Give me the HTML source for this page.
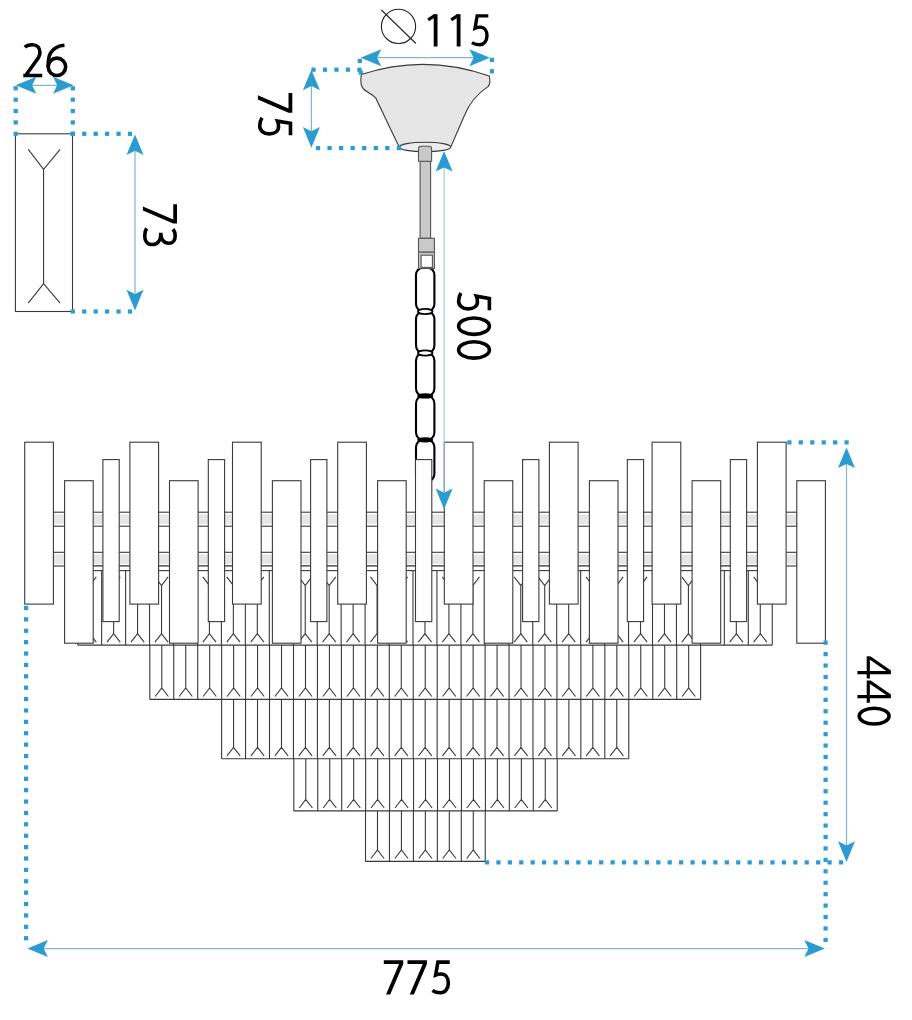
<!DOCTYPE html><html><head><meta charset="utf-8"><style>html,body{margin:0;padding:0;background:#fff;overflow:hidden}svg{display:block}.t{font-family:"Liberation Sans",sans-serif;fill:#000;fill-opacity:0}</style></head><body>
<svg width="912" height="1020" viewBox="0 0 912 1020">
<g fill="none" stroke="#3a3a3a" stroke-width="1.1">
<rect x="15.4" y="133.8" width="57.1" height="177.7" fill="#fff"/>
<path d="M28.2 149.4L43.6 169.4L60.1 149.4M43.6 169.4L43.6 283.7M28.2 303.2L43.6 283.7L60.1 303.2"/>
</g>
<g fill="none" stroke="#3a3a3a" stroke-width="1.1">
<path d="M77.70 570.60L77.70 645.10M101.65 570.60L101.65 645.10M125.60 570.60L125.60 645.10M149.55 570.60L149.55 645.10M173.50 570.60L173.50 645.10M197.45 570.60L197.45 645.10M221.40 570.60L221.40 645.10M245.35 570.60L245.35 645.10M269.30 570.60L269.30 645.10M293.25 570.60L293.25 645.10M317.20 570.60L317.20 645.10M341.15 570.60L341.15 645.10M365.10 570.60L365.10 645.10M389.05 570.60L389.05 645.10M413.00 570.60L413.00 645.10M436.95 570.60L436.95 645.10M460.90 570.60L460.90 645.10M484.85 570.60L484.85 645.10M508.80 570.60L508.80 645.10M532.75 570.60L532.75 645.10M556.70 570.60L556.70 645.10M580.65 570.60L580.65 645.10M604.60 570.60L604.60 645.10M628.55 570.60L628.55 645.10M652.50 570.60L652.50 645.10M676.45 570.60L676.45 645.10M700.40 570.60L700.40 645.10M724.35 570.60L724.35 645.10M748.30 570.60L748.30 645.10M772.25 570.60L772.25 645.10M77.70 645.10L772.25 645.10M83.08 576.90L89.67 585.50L96.27 576.90M89.67 585.50L89.67 633.60M83.08 642.20L89.67 633.60L96.27 642.20M107.03 576.90L113.62 585.50L120.22 576.90M113.62 585.50L113.62 633.60M107.03 642.20L113.62 633.60L120.22 642.20M130.97 576.90L137.57 585.50L144.17 576.90M137.57 585.50L137.57 633.60M130.97 642.20L137.57 633.60L144.17 642.20M154.93 576.90L161.53 585.50L168.12 576.90M161.53 585.50L161.53 633.60M154.93 642.20L161.53 633.60L168.12 642.20M178.88 576.90L185.47 585.50L192.07 576.90M185.47 585.50L185.47 633.60M178.88 642.20L185.47 633.60L192.07 642.20M202.83 576.90L209.43 585.50L216.03 576.90M209.43 585.50L209.43 633.60M202.83 642.20L209.43 633.60L216.03 642.20M226.78 576.90L233.38 585.50L239.97 576.90M233.38 585.50L233.38 633.60M226.78 642.20L233.38 633.60L239.97 642.20M250.72 576.90L257.32 585.50L263.93 576.90M257.32 585.50L257.32 633.60M250.72 642.20L257.32 633.60L263.93 642.20M274.67 576.90L281.27 585.50L287.88 576.90M281.27 585.50L281.27 633.60M274.67 642.20L281.27 633.60L287.88 642.20M298.62 576.90L305.23 585.50L311.83 576.90M305.23 585.50L305.23 633.60M298.62 642.20L305.23 633.60L311.83 642.20M322.57 576.90L329.18 585.50L335.78 576.90M329.18 585.50L329.18 633.60M322.57 642.20L329.18 633.60L335.78 642.20M346.52 576.90L353.12 585.50L359.73 576.90M353.12 585.50L353.12 633.60M346.52 642.20L353.12 633.60L359.73 642.20M370.47 576.90L377.07 585.50L383.68 576.90M377.07 585.50L377.07 633.60M370.47 642.20L377.07 633.60L383.68 642.20M394.42 576.90L401.02 585.50L407.62 576.90M401.02 585.50L401.02 633.60M394.42 642.20L401.02 633.60L407.62 642.20M418.37 576.90L424.97 585.50L431.57 576.90M424.97 585.50L424.97 633.60M418.37 642.20L424.97 633.60L431.57 642.20M442.32 576.90L448.92 585.50L455.52 576.90M448.92 585.50L448.92 633.60M442.32 642.20L448.92 633.60L455.52 642.20M466.27 576.90L472.88 585.50L479.48 576.90M472.88 585.50L472.88 633.60M466.27 642.20L472.88 633.60L479.48 642.20M490.22 576.90L496.82 585.50L503.43 576.90M496.82 585.50L496.82 633.60M490.22 642.20L496.82 633.60L503.43 642.20M514.17 576.90L520.77 585.50L527.38 576.90M520.77 585.50L520.77 633.60M514.17 642.20L520.77 633.60L527.38 642.20M538.12 576.90L544.73 585.50L551.33 576.90M544.73 585.50L544.73 633.60M538.12 642.20L544.73 633.60L551.33 642.20M562.07 576.90L568.67 585.50L575.27 576.90M568.67 585.50L568.67 633.60M562.07 642.20L568.67 633.60L575.27 642.20M586.02 576.90L592.62 585.50L599.23 576.90M592.62 585.50L592.62 633.60M586.02 642.20L592.62 633.60L599.23 642.20M609.98 576.90L616.58 585.50L623.18 576.90M616.58 585.50L616.58 633.60M609.98 642.20L616.58 633.60L623.18 642.20M633.92 576.90L640.52 585.50L647.12 576.90M640.52 585.50L640.52 633.60M633.92 642.20L640.52 633.60L647.12 642.20M657.88 576.90L664.48 585.50L671.08 576.90M664.48 585.50L664.48 633.60M657.88 642.20L664.48 633.60L671.08 642.20M681.83 576.90L688.43 585.50L695.03 576.90M688.43 585.50L688.43 633.60M681.83 642.20L688.43 633.60L695.03 642.20M705.77 576.90L712.38 585.50L718.98 576.90M712.38 585.50L712.38 633.60M705.77 642.20L712.38 633.60L718.98 642.20M729.73 576.90L736.33 585.50L742.93 576.90M736.33 585.50L736.33 633.60M729.73 642.20L736.33 633.60L742.93 642.20M753.67 576.90L760.27 585.50L766.88 576.90M760.27 585.50L760.27 633.60M753.67 642.20L760.27 633.60L766.88 642.20"/>
<path d="M149.80 645.10L149.80 699.40M173.75 645.10L173.75 699.40M197.70 645.10L197.70 699.40M221.65 645.10L221.65 699.40M245.60 645.10L245.60 699.40M269.55 645.10L269.55 699.40M293.50 645.10L293.50 699.40M317.45 645.10L317.45 699.40M341.40 645.10L341.40 699.40M365.35 645.10L365.35 699.40M389.30 645.10L389.30 699.40M413.25 645.10L413.25 699.40M437.20 645.10L437.20 699.40M461.15 645.10L461.15 699.40M485.10 645.10L485.10 699.40M509.05 645.10L509.05 699.40M533.00 645.10L533.00 699.40M556.95 645.10L556.95 699.40M580.90 645.10L580.90 699.40M604.85 645.10L604.85 699.40M628.80 645.10L628.80 699.40M652.75 645.10L652.75 699.40M676.70 645.10L676.70 699.40M700.65 645.10L700.65 699.40M149.80 699.40L700.65 699.40M161.78 645.10L161.78 687.90M155.18 696.50L161.78 687.90L168.38 696.50M185.73 645.10L185.73 687.90M179.13 696.50L185.73 687.90L192.33 696.50M209.68 645.10L209.68 687.90M203.08 696.50L209.68 687.90L216.28 696.50M233.62 645.10L233.62 687.90M227.03 696.50L233.62 687.90L240.22 696.50M257.57 645.10L257.57 687.90M250.97 696.50L257.57 687.90L264.18 696.50M281.52 645.10L281.52 687.90M274.92 696.50L281.52 687.90L288.12 696.50M305.48 645.10L305.48 687.90M298.88 696.50L305.48 687.90L312.08 696.50M329.43 645.10L329.43 687.90M322.82 696.50L329.43 687.90L336.03 696.50M353.38 645.10L353.38 687.90M346.77 696.50L353.38 687.90L359.98 696.50M377.33 645.10L377.33 687.90M370.73 696.50L377.33 687.90L383.93 696.50M401.27 645.10L401.27 687.90M394.67 696.50L401.27 687.90L407.88 696.50M425.23 645.10L425.23 687.90M418.62 696.50L425.23 687.90L431.83 696.50M449.18 645.10L449.18 687.90M442.57 696.50L449.18 687.90L455.78 696.50M473.12 645.10L473.12 687.90M466.52 696.50L473.12 687.90L479.73 696.50M497.07 645.10L497.07 687.90M490.47 696.50L497.07 687.90L503.68 696.50M521.02 645.10L521.02 687.90M514.42 696.50L521.02 687.90L527.62 696.50M544.98 645.10L544.98 687.90M538.38 696.50L544.98 687.90L551.58 696.50M568.92 645.10L568.92 687.90M562.32 696.50L568.92 687.90L575.52 696.50M592.88 645.10L592.88 687.90M586.27 696.50L592.88 687.90L599.48 696.50M616.83 645.10L616.83 687.90M610.23 696.50L616.83 687.90L623.43 696.50M640.77 645.10L640.77 687.90M634.17 696.50L640.77 687.90L647.38 696.50M664.72 645.10L664.72 687.90M658.12 696.50L664.72 687.90L671.32 696.50M688.67 645.10L688.67 687.90M682.07 696.50L688.67 687.90L695.27 696.50"/>
<path d="M221.60 699.40L221.60 758.80M245.55 699.40L245.55 758.80M269.50 699.40L269.50 758.80M293.45 699.40L293.45 758.80M317.40 699.40L317.40 758.80M341.35 699.40L341.35 758.80M365.30 699.40L365.30 758.80M389.25 699.40L389.25 758.80M413.20 699.40L413.20 758.80M437.15 699.40L437.15 758.80M461.10 699.40L461.10 758.80M485.05 699.40L485.05 758.80M509.00 699.40L509.00 758.80M532.95 699.40L532.95 758.80M556.90 699.40L556.90 758.80M580.85 699.40L580.85 758.80M604.80 699.40L604.80 758.80M628.75 699.40L628.75 758.80M221.60 758.80L628.75 758.80M233.57 699.40L233.57 747.30M226.97 755.90L233.57 747.30L240.17 755.90M257.52 699.40L257.52 747.30M250.92 755.90L257.52 747.30L264.12 755.90M281.48 699.40L281.48 747.30M274.88 755.90L281.48 747.30L288.08 755.90M305.43 699.40L305.43 747.30M298.82 755.90L305.43 747.30L312.03 755.90M329.38 699.40L329.38 747.30M322.77 755.90L329.38 747.30L335.98 755.90M353.32 699.40L353.32 747.30M346.72 755.90L353.32 747.30L359.93 755.90M377.27 699.40L377.27 747.30M370.67 755.90L377.27 747.30L383.88 755.90M401.23 699.40L401.23 747.30M394.62 755.90L401.23 747.30L407.83 755.90M425.17 699.40L425.17 747.30M418.57 755.90L425.17 747.30L431.77 755.90M449.12 699.40L449.12 747.30M442.52 755.90L449.12 747.30L455.73 755.90M473.07 699.40L473.07 747.30M466.47 755.90L473.07 747.30L479.68 755.90M497.02 699.40L497.02 747.30M490.42 755.90L497.02 747.30L503.62 755.90M520.98 699.40L520.98 747.30M514.38 755.90L520.98 747.30L527.58 755.90M544.92 699.40L544.92 747.30M538.32 755.90L544.92 747.30L551.52 755.90M568.88 699.40L568.88 747.30M562.27 755.90L568.88 747.30L575.48 755.90M592.82 699.40L592.82 747.30M586.22 755.90L592.82 747.30L599.42 755.90M616.77 699.40L616.77 747.30M610.17 755.90L616.77 747.30L623.38 755.90"/>
<path d="M293.80 758.80L293.80 810.90M317.75 758.80L317.75 810.90M341.70 758.80L341.70 810.90M365.65 758.80L365.65 810.90M389.60 758.80L389.60 810.90M413.55 758.80L413.55 810.90M437.50 758.80L437.50 810.90M461.45 758.80L461.45 810.90M485.40 758.80L485.40 810.90M509.35 758.80L509.35 810.90M533.30 758.80L533.30 810.90M557.25 758.80L557.25 810.90M293.80 810.90L557.25 810.90M305.78 758.80L305.78 799.40M299.18 808.00L305.78 799.40L312.38 808.00M329.73 758.80L329.73 799.40M323.12 808.00L329.73 799.40L336.33 808.00M353.68 758.80L353.68 799.40M347.07 808.00L353.68 799.40L360.28 808.00M377.62 758.80L377.62 799.40M371.02 808.00L377.62 799.40L384.23 808.00M401.57 758.80L401.57 799.40M394.97 808.00L401.57 799.40L408.18 808.00M425.52 758.80L425.52 799.40M418.92 808.00L425.52 799.40L432.12 808.00M449.48 758.80L449.48 799.40M442.88 808.00L449.48 799.40L456.08 808.00M473.43 758.80L473.43 799.40M466.82 808.00L473.43 799.40L480.03 808.00M497.38 758.80L497.38 799.40M490.77 808.00L497.38 799.40L503.98 808.00M521.33 758.80L521.33 799.40M514.73 808.00L521.33 799.40L527.93 808.00M545.27 758.80L545.27 799.40M538.67 808.00L545.27 799.40L551.88 808.00"/>
<path d="M365.50 810.90L365.50 861.40M389.45 810.90L389.45 861.40M413.40 810.90L413.40 861.40M437.35 810.90L437.35 861.40M461.30 810.90L461.30 861.40M485.25 810.90L485.25 861.40M365.50 861.40L485.25 861.40M377.48 810.90L377.48 849.90M370.88 858.50L377.48 849.90L384.08 858.50M401.43 810.90L401.43 849.90M394.82 858.50L401.43 849.90L408.03 858.50M425.38 810.90L425.38 849.90M418.77 858.50L425.38 849.90L431.98 858.50M449.32 810.90L449.32 849.90M442.72 858.50L449.32 849.90L455.93 858.50M473.27 810.90L473.27 849.90M466.67 858.50L473.27 849.90L479.88 858.50"/>
</g>
<g stroke="#3a3a3a" stroke-width="1.1" fill="#fff">
<rect x="53.5" y="512.2" width="743.3" height="14"/>
<rect x="53.5" y="552.3" width="743.3" height="13.7"/>
<rect x="77.7" y="566" width="695" height="4.6"/>
</g>
<rect x="53.5" y="514.4" width="743.3" height="9.6" fill="#e6e6e6"/>
<rect x="53.5" y="554.5" width="743.3" height="9.4" fill="#e6e6e6"/>
<g stroke="#3a3a3a" stroke-width="1.1" fill="#e6e6e6">
<path d="M361.3 74.6Q424.9 53.5 489.3 76.1C490.2 80 490 84 488.3 86.4C480 92 470 101 464.3 115.8L451.1 146.2L399 146.7L375.7 97.9C371 93.5 366 91.5 363.5 89C361 86.5 360.5 80 361.3 74.6Z"/>
<ellipse cx="425" cy="147" rx="25.8" ry="4.8" fill="#ececec"/>
</g>
<g stroke="#000" stroke-width="2.1" fill="none">
<rect x="416" y="267.6" width="18.4" height="43.9" rx="7" ry="7.5"/>
<rect x="416" y="311.5" width="18.4" height="41.5" rx="7" ry="7.5"/>
<rect x="416" y="353.0" width="18.4" height="42.9" rx="7" ry="7.5"/>
<rect x="416" y="395.9" width="18.4" height="43.9" rx="7" ry="7.5"/>
<rect x="416" y="439.8" width="18.4" height="41.7" rx="7" ry="7.5"/>
<ellipse cx="425.2" cy="311.5" rx="7.2" ry="2.6" stroke-width="1.9" fill="#fff"/>
<ellipse cx="425.2" cy="353.0" rx="7.2" ry="2.6" stroke-width="1.9" fill="#fff"/>
<ellipse cx="425.2" cy="395.9" rx="6.8" ry="1.4" stroke-width="2.4" fill="#000"/>
<ellipse cx="425.2" cy="439.8" rx="6.8" ry="1.4" stroke-width="2.4" fill="#000"/>
</g>
<g stroke="#555" stroke-width="1.1" fill="#c9c9c9">
<rect x="420.1" y="161.2" width="10.5" height="77.1"/>
<path d="M418.5 161.2L418.5 149Q418.5 146.3 421 146.3L429 146.3Q431.6 146.3 431.6 149L431.6 161.2Z"/>
<rect x="418.5" y="238.3" width="15.9" height="13.9"/>
<rect x="418.5" y="252.2" width="15.9" height="16.3"/>
<rect x="421.1" y="255.2" width="11.3" height="12.2" fill="#fff"/>
</g>
<g stroke="#3a3a3a" stroke-width="1.1" fill="#fff">
<rect x="24.7" y="442.2" width="28.7" height="161.9"/>
<rect x="129.9" y="442.2" width="28.7" height="161.9"/>
<rect x="232.5" y="442.2" width="28.7" height="161.9"/>
<rect x="337.7" y="442.2" width="28.7" height="161.9"/>
<rect x="444.3" y="442.2" width="28.7" height="161.9"/>
<rect x="549.4" y="442.2" width="28.7" height="161.9"/>
<rect x="652.1" y="442.2" width="28.7" height="161.9"/>
<rect x="757.4" y="442.2" width="28.7" height="161.9"/>
<rect x="64.6" y="480.7" width="28.6" height="162.5"/>
<rect x="169.5" y="480.7" width="28.6" height="162.5"/>
<rect x="272.4" y="480.7" width="28.6" height="162.5"/>
<rect x="377.6" y="480.7" width="28.6" height="162.5"/>
<rect x="484.2" y="480.7" width="28.6" height="162.5"/>
<rect x="589.4" y="480.7" width="28.6" height="162.5"/>
<rect x="692.1" y="480.7" width="28.6" height="162.5"/>
<rect x="796.8" y="480.7" width="28.6" height="162.5"/>
<rect x="102.9" y="459.6" width="16.3" height="162"/>
<rect x="208.3" y="459.6" width="16.3" height="162"/>
<rect x="310.6" y="459.6" width="16.3" height="162"/>
<rect x="415.5" y="459.6" width="16.3" height="162"/>
<rect x="522.6" y="459.6" width="16.3" height="162"/>
<rect x="627.3" y="459.6" width="16.3" height="162"/>
<rect x="730.3" y="459.6" width="16.3" height="162"/>
</g>
<rect x="13.60" y="86.20" width="4.2" height="4.2" fill="#2b9cd2"/>
<rect x="13.60" y="97.58" width="4.2" height="4.2" fill="#2b9cd2"/>
<rect x="13.60" y="108.95" width="4.2" height="4.2" fill="#2b9cd2"/>
<rect x="13.60" y="120.33" width="4.2" height="4.2" fill="#2b9cd2"/>
<rect x="13.60" y="131.70" width="4.2" height="4.2" fill="#2b9cd2"/>
<rect x="70.70" y="86.20" width="4.2" height="4.2" fill="#2b9cd2"/>
<rect x="70.70" y="97.58" width="4.2" height="4.2" fill="#2b9cd2"/>
<rect x="70.70" y="108.95" width="4.2" height="4.2" fill="#2b9cd2"/>
<rect x="70.70" y="120.33" width="4.2" height="4.2" fill="#2b9cd2"/>
<rect x="70.70" y="131.70" width="4.2" height="4.2" fill="#2b9cd2"/>
<line x1="25.7" y1="85.3" x2="63.599999999999994" y2="85.3" stroke="#80b6d2" stroke-width="1.2"/>
<path d="M15.70 85.30L36.30 76.80L32.10 85.30L36.30 93.80Z" fill="#2b9cd2"/>
<path d="M73.60 85.30L53.00 93.80L57.20 85.30L53.00 76.80Z" fill="#2b9cd2"/>
<text transform="translate(20.48,76.91) scale(0.4431,0.4887)" font-size="100" class="t">26</text>
<rect x="70.70" y="131.70" width="4.2" height="4.2" fill="#2b9cd2"/>
<rect x="82.14" y="131.70" width="4.2" height="4.2" fill="#2b9cd2"/>
<rect x="93.58" y="131.70" width="4.2" height="4.2" fill="#2b9cd2"/>
<rect x="105.02" y="131.70" width="4.2" height="4.2" fill="#2b9cd2"/>
<rect x="116.46" y="131.70" width="4.2" height="4.2" fill="#2b9cd2"/>
<rect x="127.90" y="131.70" width="4.2" height="4.2" fill="#2b9cd2"/>
<rect x="70.70" y="309.40" width="4.2" height="4.2" fill="#2b9cd2"/>
<rect x="82.14" y="309.40" width="4.2" height="4.2" fill="#2b9cd2"/>
<rect x="93.58" y="309.40" width="4.2" height="4.2" fill="#2b9cd2"/>
<rect x="105.02" y="309.40" width="4.2" height="4.2" fill="#2b9cd2"/>
<rect x="116.46" y="309.40" width="4.2" height="4.2" fill="#2b9cd2"/>
<rect x="127.90" y="309.40" width="4.2" height="4.2" fill="#2b9cd2"/>
<line x1="135.0" y1="144.4" x2="135.0" y2="300.4" stroke="#80b6d2" stroke-width="1.2"/>
<path d="M135.00 134.40L143.50 155.00L135.00 150.80L126.50 155.00Z" fill="#2b9cd2"/>
<path d="M135.00 310.40L126.50 289.80L135.00 294.00L143.50 289.80Z" fill="#2b9cd2"/>
<text transform="translate(143.09,202.24) rotate(90) scale(0.4118,0.4859)" font-size="100" class="t">73</text>
<rect x="311.40" y="67.60" width="4.2" height="4.2" fill="#2b9cd2"/>
<rect x="322.88" y="67.60" width="4.2" height="4.2" fill="#2b9cd2"/>
<rect x="334.35" y="67.60" width="4.2" height="4.2" fill="#2b9cd2"/>
<rect x="345.82" y="67.60" width="4.2" height="4.2" fill="#2b9cd2"/>
<rect x="357.30" y="67.60" width="4.2" height="4.2" fill="#2b9cd2"/>
<rect x="315.90" y="146.00" width="4.2" height="4.2" fill="#2b9cd2"/>
<rect x="327.46" y="146.00" width="4.2" height="4.2" fill="#2b9cd2"/>
<rect x="339.01" y="146.00" width="4.2" height="4.2" fill="#2b9cd2"/>
<rect x="350.57" y="146.00" width="4.2" height="4.2" fill="#2b9cd2"/>
<rect x="362.13" y="146.00" width="4.2" height="4.2" fill="#2b9cd2"/>
<rect x="373.69" y="146.00" width="4.2" height="4.2" fill="#2b9cd2"/>
<rect x="385.24" y="146.00" width="4.2" height="4.2" fill="#2b9cd2"/>
<rect x="396.80" y="146.00" width="4.2" height="4.2" fill="#2b9cd2"/>
<line x1="311.4" y1="79.7" x2="311.4" y2="137.7" stroke="#80b6d2" stroke-width="1.2"/>
<path d="M311.40 69.70L319.90 90.30L311.40 86.10L302.90 90.30Z" fill="#2b9cd2"/>
<path d="M311.40 147.70L302.90 127.10L311.40 131.30L319.90 127.10Z" fill="#2b9cd2"/>
<text transform="translate(258.29,91.32) rotate(90) scale(0.4157,0.4929)" font-size="100" class="t">75</text>
<circle cx="398.5" cy="26.4" r="17.1" fill="none" stroke="#222" stroke-width="1.1"/>
<line x1="381.4" y1="10" x2="415.9" y2="43.5" stroke="#222" stroke-width="1.1"/>
<text transform="translate(424.36,45.83) scale(0.4170,0.4686)" font-size="100" class="t">115</text>
<rect x="357.7" y="58.8" width="4.2" height="4.2" fill="#2b9cd2"/>
<rect x="358.7" y="70.5" width="4.2" height="4.2" fill="#2b9cd2"/>
<rect x="489.8" y="57.8" width="4.2" height="4.2" fill="#2b9cd2"/>
<rect x="489.8" y="69.2" width="4.2" height="4.2" fill="#2b9cd2"/>
<line x1="370.7" y1="57.7" x2="480" y2="57.7" stroke="#80b6d2" stroke-width="1.2"/>
<path d="M360.70 57.70L381.30 49.20L377.10 57.70L381.30 66.20Z" fill="#2b9cd2"/>
<path d="M490.00 57.70L469.40 66.20L473.60 57.70L469.40 49.20Z" fill="#2b9cd2"/>
<line x1="444.1" y1="161" x2="444.1" y2="499.2" stroke="#a9c9cd" stroke-width="1.2"/>
<path d="M444.10 151.00L452.60 171.60L444.10 167.40L435.60 171.60Z" fill="#2b9cd2"/>
<path d="M444.10 509.20L435.60 488.60L444.10 492.80L452.60 488.60Z" fill="#2b9cd2"/>
<text transform="translate(457.28,290.17) rotate(90) scale(0.4333,0.4845)" font-size="100" class="t">500</text>
<rect x="787.30" y="440.30" width="4.2" height="4.2" fill="#2b9cd2"/>
<rect x="798.74" y="440.30" width="4.2" height="4.2" fill="#2b9cd2"/>
<rect x="810.18" y="440.30" width="4.2" height="4.2" fill="#2b9cd2"/>
<rect x="821.62" y="440.30" width="4.2" height="4.2" fill="#2b9cd2"/>
<rect x="833.06" y="440.30" width="4.2" height="4.2" fill="#2b9cd2"/>
<rect x="844.50" y="440.30" width="4.2" height="4.2" fill="#2b9cd2"/>
<rect x="484.90" y="860.30" width="4.2" height="4.2" fill="#2b9cd2"/>
<rect x="496.32" y="860.30" width="4.2" height="4.2" fill="#2b9cd2"/>
<rect x="507.74" y="860.30" width="4.2" height="4.2" fill="#2b9cd2"/>
<rect x="519.16" y="860.30" width="4.2" height="4.2" fill="#2b9cd2"/>
<rect x="530.58" y="860.30" width="4.2" height="4.2" fill="#2b9cd2"/>
<rect x="542.00" y="860.30" width="4.2" height="4.2" fill="#2b9cd2"/>
<rect x="553.42" y="860.30" width="4.2" height="4.2" fill="#2b9cd2"/>
<rect x="564.84" y="860.30" width="4.2" height="4.2" fill="#2b9cd2"/>
<rect x="576.25" y="860.30" width="4.2" height="4.2" fill="#2b9cd2"/>
<rect x="587.67" y="860.30" width="4.2" height="4.2" fill="#2b9cd2"/>
<rect x="599.09" y="860.30" width="4.2" height="4.2" fill="#2b9cd2"/>
<rect x="610.51" y="860.30" width="4.2" height="4.2" fill="#2b9cd2"/>
<rect x="621.93" y="860.30" width="4.2" height="4.2" fill="#2b9cd2"/>
<rect x="633.35" y="860.30" width="4.2" height="4.2" fill="#2b9cd2"/>
<rect x="644.77" y="860.30" width="4.2" height="4.2" fill="#2b9cd2"/>
<rect x="656.19" y="860.30" width="4.2" height="4.2" fill="#2b9cd2"/>
<rect x="667.61" y="860.30" width="4.2" height="4.2" fill="#2b9cd2"/>
<rect x="679.03" y="860.30" width="4.2" height="4.2" fill="#2b9cd2"/>
<rect x="690.45" y="860.30" width="4.2" height="4.2" fill="#2b9cd2"/>
<rect x="701.87" y="860.30" width="4.2" height="4.2" fill="#2b9cd2"/>
<rect x="713.29" y="860.30" width="4.2" height="4.2" fill="#2b9cd2"/>
<rect x="724.71" y="860.30" width="4.2" height="4.2" fill="#2b9cd2"/>
<rect x="736.13" y="860.30" width="4.2" height="4.2" fill="#2b9cd2"/>
<rect x="747.55" y="860.30" width="4.2" height="4.2" fill="#2b9cd2"/>
<rect x="758.96" y="860.30" width="4.2" height="4.2" fill="#2b9cd2"/>
<rect x="770.38" y="860.30" width="4.2" height="4.2" fill="#2b9cd2"/>
<rect x="781.80" y="860.30" width="4.2" height="4.2" fill="#2b9cd2"/>
<rect x="793.22" y="860.30" width="4.2" height="4.2" fill="#2b9cd2"/>
<rect x="804.64" y="860.30" width="4.2" height="4.2" fill="#2b9cd2"/>
<rect x="816.06" y="860.30" width="4.2" height="4.2" fill="#2b9cd2"/>
<rect x="827.48" y="860.30" width="4.2" height="4.2" fill="#2b9cd2"/>
<rect x="838.90" y="860.30" width="4.2" height="4.2" fill="#2b9cd2"/>
<rect x="823.50" y="640.60" width="4.2" height="4.2" fill="#2b9cd2"/>
<rect x="823.50" y="652.03" width="4.2" height="4.2" fill="#2b9cd2"/>
<rect x="823.50" y="663.46" width="4.2" height="4.2" fill="#2b9cd2"/>
<rect x="823.50" y="674.89" width="4.2" height="4.2" fill="#2b9cd2"/>
<rect x="823.50" y="686.32" width="4.2" height="4.2" fill="#2b9cd2"/>
<rect x="823.50" y="697.75" width="4.2" height="4.2" fill="#2b9cd2"/>
<rect x="823.50" y="709.18" width="4.2" height="4.2" fill="#2b9cd2"/>
<rect x="823.50" y="720.62" width="4.2" height="4.2" fill="#2b9cd2"/>
<rect x="823.50" y="732.05" width="4.2" height="4.2" fill="#2b9cd2"/>
<rect x="823.50" y="743.48" width="4.2" height="4.2" fill="#2b9cd2"/>
<rect x="823.50" y="754.91" width="4.2" height="4.2" fill="#2b9cd2"/>
<rect x="823.50" y="766.34" width="4.2" height="4.2" fill="#2b9cd2"/>
<rect x="823.50" y="777.77" width="4.2" height="4.2" fill="#2b9cd2"/>
<rect x="823.50" y="789.20" width="4.2" height="4.2" fill="#2b9cd2"/>
<rect x="823.50" y="800.63" width="4.2" height="4.2" fill="#2b9cd2"/>
<rect x="823.50" y="812.06" width="4.2" height="4.2" fill="#2b9cd2"/>
<rect x="823.50" y="823.49" width="4.2" height="4.2" fill="#2b9cd2"/>
<rect x="823.50" y="834.92" width="4.2" height="4.2" fill="#2b9cd2"/>
<rect x="823.50" y="846.35" width="4.2" height="4.2" fill="#2b9cd2"/>
<rect x="823.50" y="857.78" width="4.2" height="4.2" fill="#2b9cd2"/>
<rect x="823.50" y="869.22" width="4.2" height="4.2" fill="#2b9cd2"/>
<rect x="823.50" y="880.65" width="4.2" height="4.2" fill="#2b9cd2"/>
<rect x="823.50" y="892.08" width="4.2" height="4.2" fill="#2b9cd2"/>
<rect x="823.50" y="903.51" width="4.2" height="4.2" fill="#2b9cd2"/>
<rect x="823.50" y="914.94" width="4.2" height="4.2" fill="#2b9cd2"/>
<rect x="823.50" y="926.37" width="4.2" height="4.2" fill="#2b9cd2"/>
<rect x="823.50" y="937.80" width="4.2" height="4.2" fill="#2b9cd2"/>
<rect x="24.00" y="605.90" width="4.2" height="4.2" fill="#2b9cd2"/>
<rect x="24.00" y="617.29" width="4.2" height="4.2" fill="#2b9cd2"/>
<rect x="24.00" y="628.67" width="4.2" height="4.2" fill="#2b9cd2"/>
<rect x="24.00" y="640.06" width="4.2" height="4.2" fill="#2b9cd2"/>
<rect x="24.00" y="651.44" width="4.2" height="4.2" fill="#2b9cd2"/>
<rect x="24.00" y="662.83" width="4.2" height="4.2" fill="#2b9cd2"/>
<rect x="24.00" y="674.22" width="4.2" height="4.2" fill="#2b9cd2"/>
<rect x="24.00" y="685.60" width="4.2" height="4.2" fill="#2b9cd2"/>
<rect x="24.00" y="696.99" width="4.2" height="4.2" fill="#2b9cd2"/>
<rect x="24.00" y="708.38" width="4.2" height="4.2" fill="#2b9cd2"/>
<rect x="24.00" y="719.76" width="4.2" height="4.2" fill="#2b9cd2"/>
<rect x="24.00" y="731.15" width="4.2" height="4.2" fill="#2b9cd2"/>
<rect x="24.00" y="742.53" width="4.2" height="4.2" fill="#2b9cd2"/>
<rect x="24.00" y="753.92" width="4.2" height="4.2" fill="#2b9cd2"/>
<rect x="24.00" y="765.31" width="4.2" height="4.2" fill="#2b9cd2"/>
<rect x="24.00" y="776.69" width="4.2" height="4.2" fill="#2b9cd2"/>
<rect x="24.00" y="788.08" width="4.2" height="4.2" fill="#2b9cd2"/>
<rect x="24.00" y="799.47" width="4.2" height="4.2" fill="#2b9cd2"/>
<rect x="24.00" y="810.85" width="4.2" height="4.2" fill="#2b9cd2"/>
<rect x="24.00" y="822.24" width="4.2" height="4.2" fill="#2b9cd2"/>
<rect x="24.00" y="833.62" width="4.2" height="4.2" fill="#2b9cd2"/>
<rect x="24.00" y="845.01" width="4.2" height="4.2" fill="#2b9cd2"/>
<rect x="24.00" y="856.40" width="4.2" height="4.2" fill="#2b9cd2"/>
<rect x="24.00" y="867.78" width="4.2" height="4.2" fill="#2b9cd2"/>
<rect x="24.00" y="879.17" width="4.2" height="4.2" fill="#2b9cd2"/>
<rect x="24.00" y="890.56" width="4.2" height="4.2" fill="#2b9cd2"/>
<rect x="24.00" y="901.94" width="4.2" height="4.2" fill="#2b9cd2"/>
<rect x="24.00" y="913.33" width="4.2" height="4.2" fill="#2b9cd2"/>
<rect x="24.00" y="924.71" width="4.2" height="4.2" fill="#2b9cd2"/>
<rect x="24.00" y="936.10" width="4.2" height="4.2" fill="#2b9cd2"/>
<line x1="846.5" y1="457.5" x2="846.5" y2="851.9" stroke="#80b6d2" stroke-width="1.2"/>
<path d="M846.50 447.50L855.00 468.10L846.50 463.90L838.00 468.10Z" fill="#2b9cd2"/>
<path d="M846.50 861.90L838.00 841.30L846.50 845.50L855.00 841.30Z" fill="#2b9cd2"/>
<text transform="translate(857.78,655.23) rotate(90) scale(0.4354,0.4761)" font-size="100" class="t">440</text>
<line x1="37.3" y1="948.6" x2="814.9" y2="948.6" stroke="#80b6d2" stroke-width="1.2"/>
<path d="M27.30 948.60L47.90 940.10L43.70 948.60L47.90 957.10Z" fill="#2b9cd2"/>
<path d="M824.90 948.60L804.30 957.10L808.50 948.60L804.30 940.10Z" fill="#2b9cd2"/>
<text transform="translate(381.78,994.11) scale(0.4241,0.4886)" font-size="100" class="t">775</text>
<g fill="#000" stroke="#000" stroke-width="10.5" stroke-linecap="butt" stroke-linejoin="miter">
<g transform="translate(23.30,43.00) scale(0.3430)"><path d="M4.5 12.5C10 7 17 5.3 26.4 5.3C40 5.3 48.5 14 48.5 27C48.5 38 43.5 45.5 36 54L7 94.8M0 94.8L55.2 94.8" fill="none"/></g>
<g transform="translate(46.30,43.00) scale(0.3430)"><path d="M53 6.5C38 7.5 22 14 13 28C7 38 5.3 55 5.3 70" fill="none"/><ellipse cx="31" cy="69.5" rx="25.5" ry="25.3" fill="none"/></g>
<g transform="translate(383.80,960.30) scale(0.3420)"><path stroke="none" d="M0 0L56.8 0L56.8 11L18.7 100L6.5 100L44.6 11L0 11Z"/></g>
<g transform="translate(407.50,960.30) scale(0.3420)"><path stroke="none" d="M0 0L56.8 0L56.8 11L18.7 100L6.5 100L44.6 11L0 11Z"/></g>
<g transform="translate(431.40,960.30) scale(0.3420)"><path d="M53.6 5.3L19 5.3L12.5 43C18 40.5 22 40 28.6 40C41 40 49.5 51 49.5 67C49.5 84 39 94.7 27 94.7C17 94.7 9 92 3 88" fill="none"/></g>
<g transform="translate(427.70,14.20) scale(0.3230)"><path stroke="none" d="M18.6 0L30.4 0L30.4 100L18.6 100Z"/><path d="M24 3.2L1.5 17.5" fill="none" stroke-width="10"/></g>
<g transform="translate(450.70,14.20) scale(0.3230)"><path stroke="none" d="M18.6 0L30.4 0L30.4 100L18.6 100Z"/><path d="M24 3.2L1.5 17.5" fill="none" stroke-width="10"/></g>
<g transform="translate(471.00,14.20) scale(0.3230)"><path d="M53.6 5.3L19 5.3L12.5 43C18 40.5 22 40 28.6 40C41 40 49.5 51 49.5 67C49.5 84 39 94.7 27 94.7C17 94.7 9 92 3 88" fill="none"/></g>
<g transform="translate(177.00,204.20) rotate(90) scale(0.3410)"><path stroke="none" d="M0 0L56.8 0L56.8 11L18.7 100L6.5 100L44.6 11L0 11Z"/></g>
<g transform="translate(177.00,227.70) rotate(90) scale(0.3410)"><path d="M4 11.5C10 7 16 5.3 24 5.3C37 5.3 45.5 13 45.5 24C45.5 38 34 47.5 18 47.5L15 47.5M18 47.5C38 47.5 49.5 58 49.5 72C49.5 88 38 94.7 24 94.7C14 94.7 7 92.5 2 89" fill="none"/></g>
<g transform="translate(292.30,93.10) rotate(90) scale(0.3440)"><path stroke="none" d="M0 0L56.8 0L56.8 11L18.7 100L6.5 100L44.6 11L0 11Z"/></g>
<g transform="translate(292.30,116.80) rotate(90) scale(0.3440)"><path d="M53.6 5.3L19 5.3L12.5 43C18 40.5 22 40 28.6 40C41 40 49.5 51 49.5 67C49.5 84 39 94.7 27 94.7C17 94.7 9 92 3 88" fill="none"/></g>
<g transform="translate(491.20,291.90) rotate(90) scale(0.3440)"><path d="M53.6 5.3L19 5.3L12.5 43C18 40.5 22 40 28.6 40C41 40 49.5 51 49.5 67C49.5 84 39 94.7 27 94.7C17 94.7 9 92 3 88" fill="none"/></g>
<g transform="translate(491.20,316.20) rotate(90) scale(0.3440)"><ellipse cx="29" cy="50" rx="23.8" ry="44.7" fill="none"/></g>
<g transform="translate(491.20,340.00) rotate(90) scale(0.3440)"><ellipse cx="29" cy="50" rx="23.8" ry="44.7" fill="none"/></g>
<g transform="translate(890.90,656.30) rotate(90) scale(0.3350)"><path d="M48.7 0L48.7 100M0 67.5L66.4 67.5" fill="none" stroke-width="9.5"/><path d="M46 2.5L3.5 64" fill="none" stroke-width="9.5"/></g>
<g transform="translate(890.90,680.40) rotate(90) scale(0.3350)"><path d="M48.7 0L48.7 100M0 67.5L66.4 67.5" fill="none" stroke-width="9.5"/><path d="M46 2.5L3.5 64" fill="none" stroke-width="9.5"/></g>
<g transform="translate(890.90,706.40) rotate(90) scale(0.3350)"><ellipse cx="29" cy="50" rx="23.8" ry="44.7" fill="none"/></g>
</g>
</svg></body></html>
